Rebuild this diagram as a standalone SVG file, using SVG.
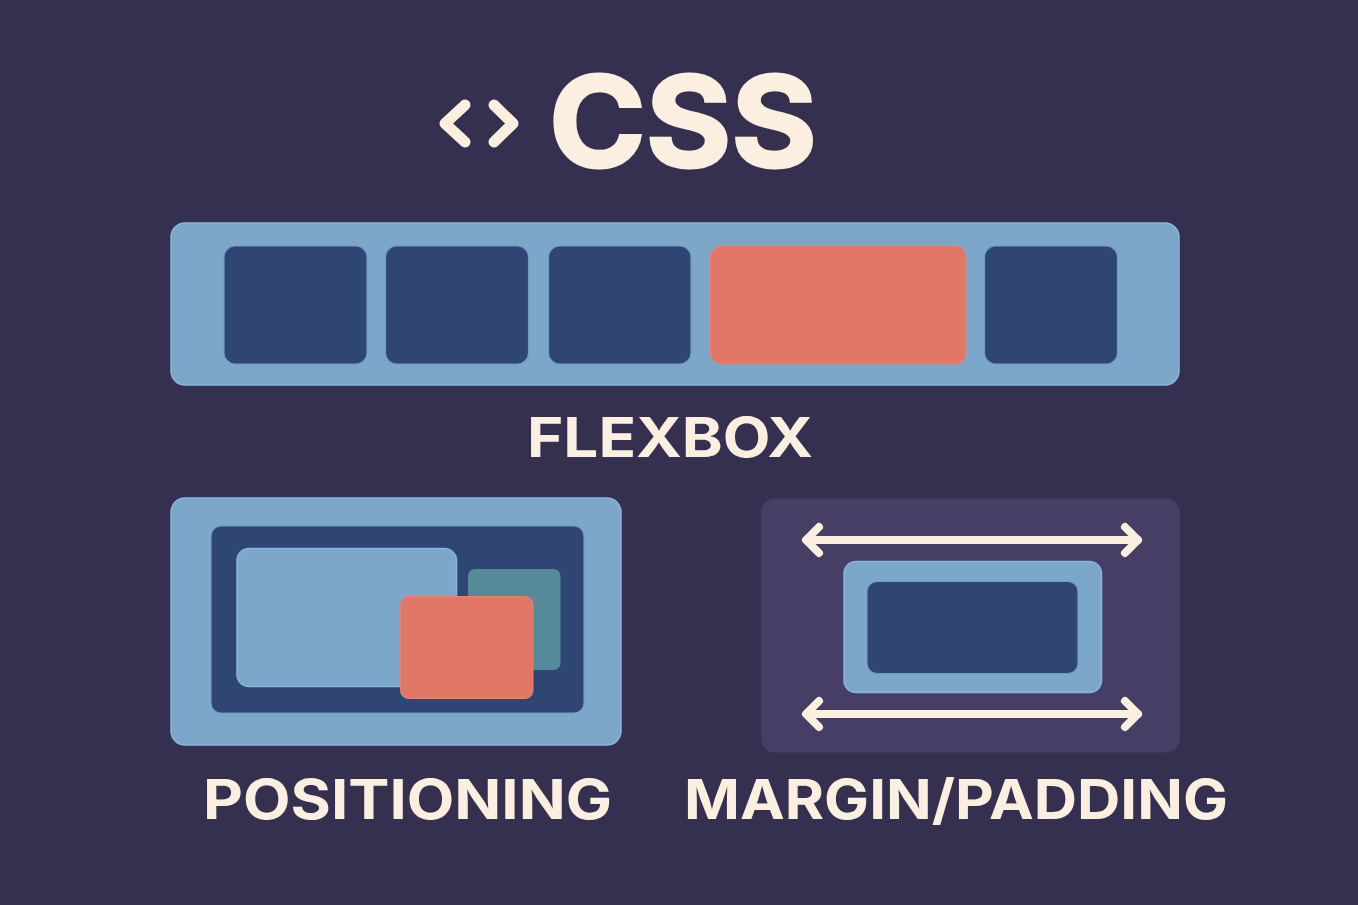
<svg xmlns="http://www.w3.org/2000/svg" width="1358" height="905" viewBox="0 0 1358 905">
<style>
.lab{font-family:"Inter","Liberation Sans",sans-serif;font-weight:700;fill:#fbf0e0}
.lt{fill:#7ca7c8;stroke:#86b6dc;stroke-width:1.5}
.dk{fill:#2f4674;stroke:#6f9cc4;stroke-width:1.2}
.cor{fill:#e07767;stroke:#e8836f;stroke-width:1}
.arr{fill:none;stroke:#fbf0e0;stroke-width:8;stroke-linecap:round;stroke-linejoin:round}
</style>
<rect width="1358" height="905" fill="#352f50"/>
<g id="title">
<path class="arr" style="stroke-width:11" d="M465 105L445 123.500L465 142M494 105L513 123.500L494 142"/>
<text class="lab" x="549" y="167" font-size="126" textLength="268" lengthAdjust="spacingAndGlyphs" style="stroke:#fbf0e0;stroke-width:3px">CSS</text>
</g>
<g id="flexbox">
<rect class="lt" x="171" y="223" width="1008" height="162" rx="14"/>
<rect class="dk" x="224" y="246" width="143" height="118" rx="11"/>
<rect class="dk" x="385.500" y="246" width="143" height="118" rx="11"/>
<rect class="dk" x="548.500" y="246" width="142.500" height="118" rx="11"/>
<rect class="cor" x="710.500" y="246" width="255.500" height="118" rx="11"/>
<rect class="dk" x="984.500" y="246" width="133" height="118" rx="11"/>
<text class="lab" x="527" y="457" font-size="55" textLength="286" lengthAdjust="spacingAndGlyphs">FLEXBOX</text>
</g>
<g id="positioning">
<rect class="lt" x="171" y="498" width="450" height="247" rx="14"/>
<rect class="dk" x="211" y="526" width="373" height="187" rx="10"/>
<rect class="lt" x="237" y="548.500" width="219.500" height="138" rx="12"/>
<rect x="468" y="569" width="92.500" height="101" rx="7" fill="#558b98"/>
<rect class="cor" x="400.500" y="596.500" width="132.500" height="102" rx="8"/>
<text class="lab" x="203" y="819" font-size="55" textLength="409" lengthAdjust="spacingAndGlyphs">POSITIONING</text>
</g>
<g id="margin-padding">
<rect x="761" y="498.500" width="419" height="254" rx="14" fill="#463e64"/>
<rect class="lt" x="844" y="561.500" width="257.500" height="131" rx="12"/>
<rect class="dk" x="867" y="581.500" width="211" height="92" rx="10"/>
<text class="lab" x="684" y="819" font-size="55" textLength="544" lengthAdjust="spacingAndGlyphs">MARGIN/PADDING</text>
</g>
<g id="connectors">
<path class="arr" d="M807 540H1138M819 527L806 540L819 553M1125 527L1138 540L1125 553"/>
<path class="arr" d="M807 714H1138M819 701L806 714L819 727M1125 701L1138 714L1125 727"/>
</g>
</svg>
